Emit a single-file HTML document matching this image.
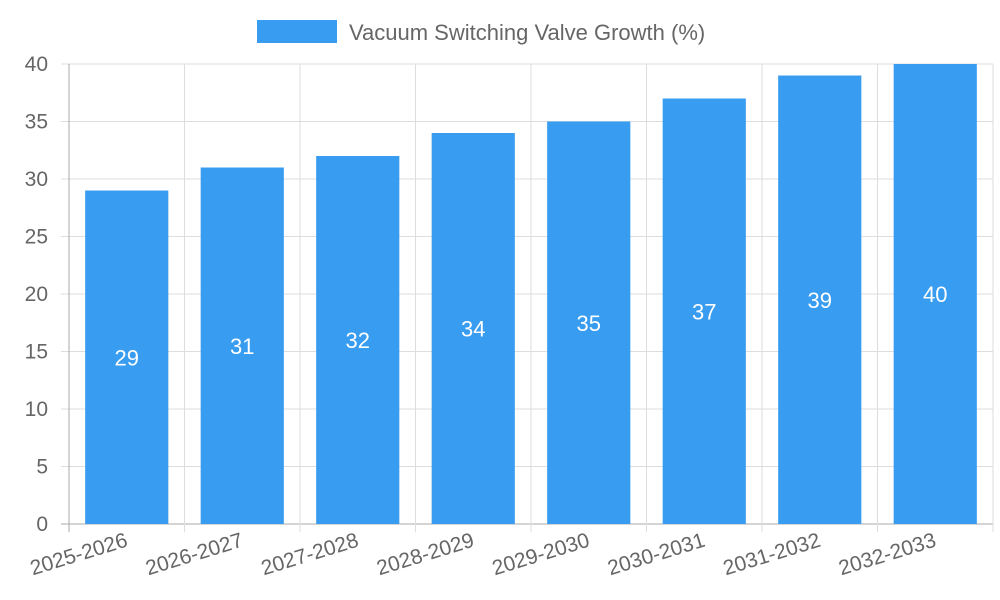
<!DOCTYPE html>
<html><head><meta charset="utf-8"><style>body{margin:0;background:#fff}svg{display:block;font-family:"Liberation Sans",sans-serif}</style></head>
<body>
<svg id="chart" width="1000" height="600">
<g>
<rect x="257" y="20" width="80" height="23" fill="#389cf0"/>
<text x="349" y="40" font-size="22" fill="#666">Vacuum Switching Valve Growth (%)</text>
</g>
<g id="grid"></g><g id="bars"></g><g id="labels"></g>
</svg>
<script>
const categories=["2025-2026","2026-2027","2027-2028","2028-2029","2029-2030","2030-2031","2031-2032","2032-2033"];
const values=[29,31,32,34,35,37,39,40];
const yTicks=[0,5,10,15,20,25,30,35,40];
const NS="http://www.w3.org/2000/svg";
const L=69,R=993,T=64,B=524,yMax=40;
const y=v=>B-(v/yMax)*(B-T);
const bw=(R-L)/categories.length;
const x=i=>L+i*bw;
function mk(tag,attrs,parent,text){const e=document.createElementNS(NS,tag);for(const k in attrs)e.setAttribute(k,attrs[k]);if(text!==undefined)e.textContent=text;document.getElementById(parent).appendChild(e);return e;}
yTicks.forEach(t=>{
 const l=mk('line',{x1:61,x2:R,y1:y(t),y2:y(t),stroke:t===0?'#aaa':'#ddd','stroke-width':1},'grid');
 
 
 const tx=mk('text',{x:48,y:y(t)+7,'text-anchor':'end','font-size':21,fill:'#666'},'grid',t);
 
 
});
for(let i=0;i<=categories.length;i++){
 const l=mk('line',{x1:x(i),x2:x(i),y1:T,y2:B+8,stroke:i===0?'#aaa':'#ddd','stroke-width':1},'grid');
 
 
}
categories.forEach((c,i)=>{
 const cx=x(i)+bw/2,w=bw*0.72;
 const r=mk('rect',{x:cx-w/2,y:y(values[i]),width:w,height:B-y(values[i]),fill:'#389cf0'},'bars');
 
 
 const v=mk('text',{x:cx,y:(y(values[i])+B)/2+8,'text-anchor':'middle','font-size':22,fill:'#fff'},'labels',values[i]);
 
 
 const t=mk('text',{x:cx+2,y:546,'text-anchor':'end','font-size':21,fill:'#666',transform:`rotate(-17 ${cx+2} 546)`},'labels',c);
 
 
});
</script>
</body></html>
